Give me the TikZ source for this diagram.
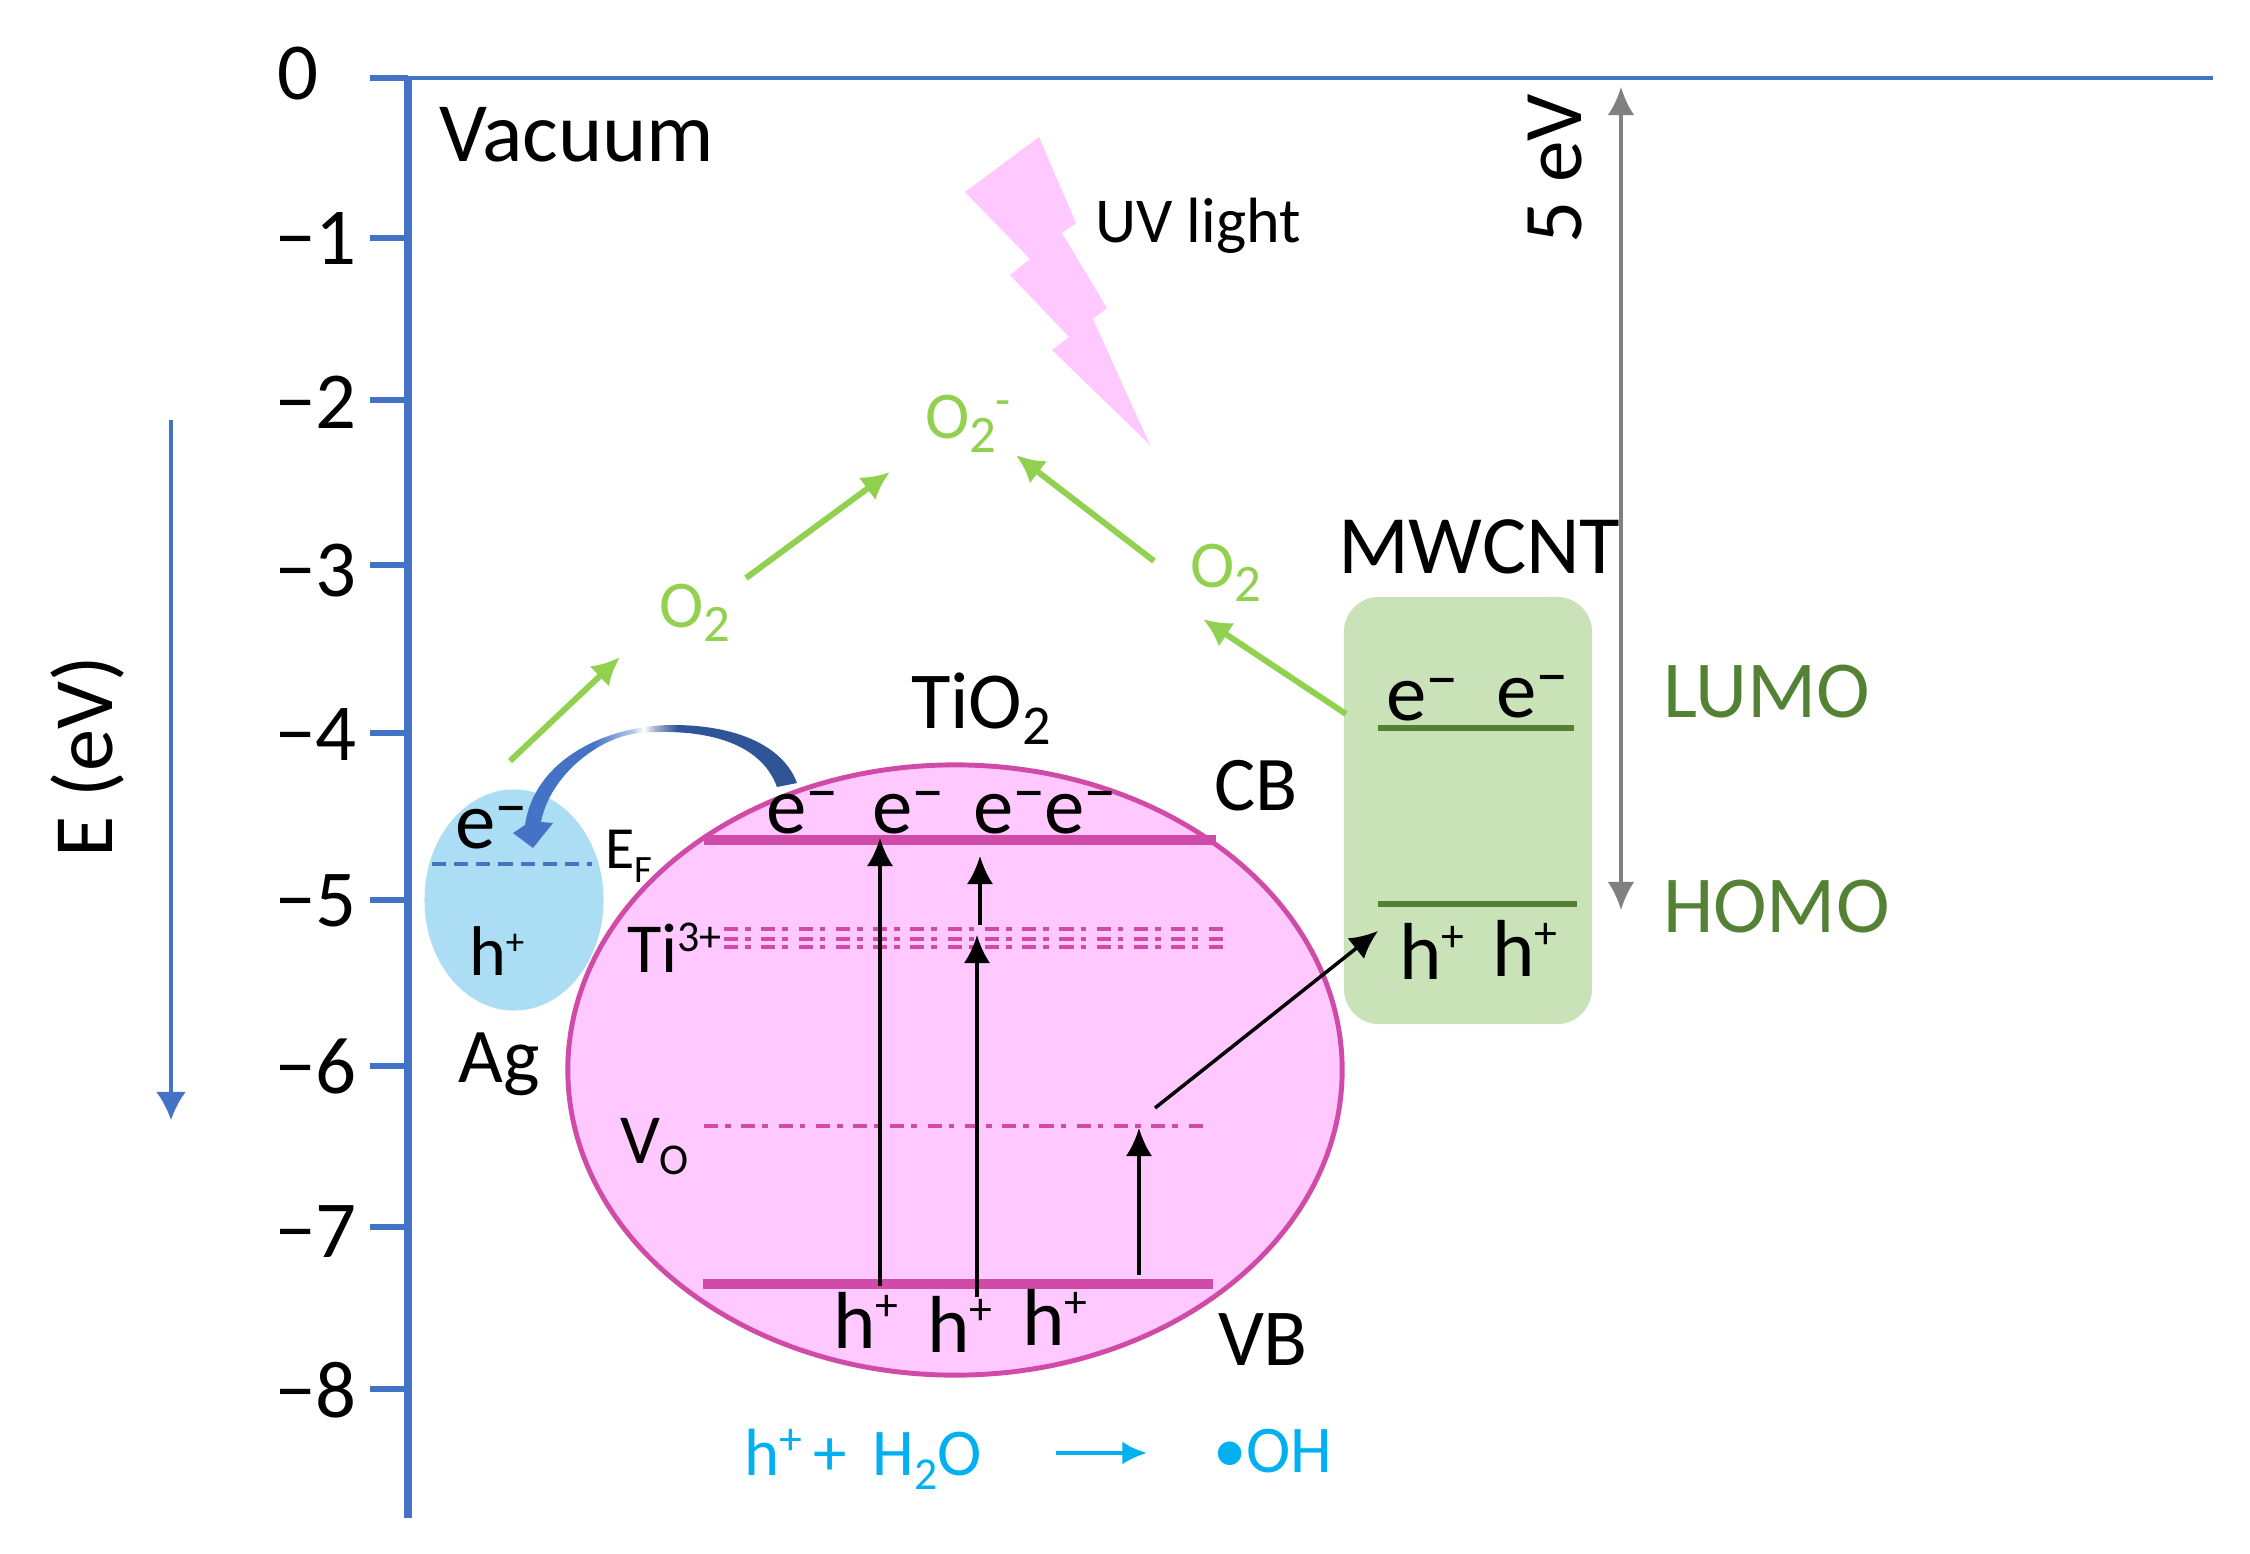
\documentclass[tikz,border=0pt]{standalone}
\usepackage{fontspec}
\setmainfont{Carlito}
\usetikzlibrary{calc, arrows.meta, shapes.geometric, positioning}
\definecolor{axisblue}{HTML}{4472C4}
\definecolor{arcdark}{HTML}{2F5597}
\definecolor{tiopink}{HTML}{FFC9FF}
\definecolor{tioedge}{HTML}{D04BA8}
\definecolor{agblue}{HTML}{ABDDF4}
\definecolor{cntgreen}{HTML}{C9E2B8}
\definecolor{cntdark}{HTML}{548235}
\definecolor{oxgreen}{HTML}{92D050}
\definecolor{waterblue}{HTML}{00B0F0}
\pgfdeclarehorizontalshading{arcfade}{100bp}{color(0bp)=(axisblue); color(39bp)=(axisblue); color(46bp)=(axisblue!40); color(48bp)=(white); color(50bp)=(arcdark!45); color(54bp)=(arcdark); color(100bp)=(arcdark)}
\newcommand{\fs}[1]{\fontsize{#1}{#1}\selectfont}
\newcommand{\shifted}[3]{\raisebox{#1}{\fs{#2}#3}}
\newcommand{\elec}{e\shifted{5.5pt}{18}{−}}
\newcommand{\hole}{h\shifted{7.8pt}{13}{+}}
\tikzset{
  txt/.style={inner sep=0pt, outer sep=0pt, font=\fs{23}},
  lbl/.style={txt, anchor=base west},
  ticklbl/.style={txt, anchor=west},
  oxy/.style={lbl, text=oxgreen, font=\fs{19}},
  blackarr/.style={draw=black, line width=1pt, -{Latex[length=8pt,width=7.5pt]}},
  oxarr/.style={draw=oxgreen, line width=1.7pt, -{Latex[length=8pt,width=8pt]}},
  level/.style={draw=tioedge, line width=2.8pt},
  deflevel/.style={draw=tioedge, line width=0.95pt, dash pattern=on 4pt off 2pt on 1.6pt off 3pt},
  cntlevel/.style={draw=cntdark, line width=1.9pt},
}
\begin{document}
\begin{tikzpicture}[x=0.01cm, y=-0.01cm]
  \useasboundingbox (0,0) rectangle (2250,1553);
  % axis
  \coordinate (axtop) at (408,78);
  \coordinate (axbot) at (408,1518);
  \coordinate (axend) at (2213,78);
  \draw[axisblue, line width=0.95pt] (axtop) -- (axend);
  \draw[axisblue, line width=2pt] (axtop) -- (axbot);
  \draw[axisblue, line width=1.5pt] (370,78) -- (axtop);
  \foreach \val/\ypos/\ytxt in {1/238/238, 2/400/402, 3/565/571, 4/733/735, 5/900/901, 6/1066/1066, 7/1227/1232, 8/1389/1390} {
    \draw[axisblue, line width=1.5pt] (370,\ypos) -- (408,\ypos);
    \node[ticklbl] (tick\val) at (275,\ytxt) {−\val};
  }
  \node[ticklbl] (tick0) at (277,74) {0};
  \node[lbl, font=\fs{24}] (vacuum) at (439,161) {Vacuum};
  \node[txt, rotate=90, font=\fs{24}] (elabel) at (87,757) {E (eV)};
  \coordinate (estart) at (171,420);
  \coordinate (eend) at (171,1120);
  \draw[axisblue, line width=0.9pt, -{Latex[length=8pt,width=8.5pt]}] (estart) -- (eend);
  % UV
  \fill[tiopink] (1039,137) -- (1076,223) -- (1062,233) -- (1107,308) -- (1093,319) -- (1150,445)
    -- (1052,350) -- (1069,337) -- (1010,275) -- (1030,259) -- (965,192) -- cycle;
  \node[lbl, font=\fs{18.2}] (uv) at (1095,242) {UV light};
  % MWCNT
  \node[fill=cntgreen, rounded corners=10pt, minimum width=248*0.2845pt, minimum height=427*0.2845pt, inner sep=0pt] (cnt) at (1468,810.5) {};
  \node[lbl, font=\fs{23.6}] (mwcnt) at (1338,573) {MWCNT};
  \coordinate (luA) at (1378,728);
  \coordinate (luB) at (1574,728);
  \coordinate (hoA) at (1378,904);
  \coordinate (hoB) at (1577,904);
  \draw[cntlevel] (luA) -- (luB);
  \draw[cntlevel] (hoA) -- (hoB);
  \node[lbl] (cnte1) at (1386,720) {\elec};
  \node[lbl] (cnte2) at (1496,717) {\elec};
  \node[lbl] (cnth1) at (1399,979) {\hole};
  \node[lbl] (cnth2) at (1492,976) {\hole};
  \node[lbl, text=cntdark] (lumo) at (1663,717) {LUMO};
  \node[lbl, text=cntdark] (homo) at (1663,932) {HOMO};
  % 5 eV
  \coordinate (fiveA) at (1621,87);
  \coordinate (fiveB) at (1621,910);
  \draw[black!50, line width=1pt, {Latex[length=8pt,width=7.6pt]}-{Latex[length=8pt,width=7.6pt]}] (fiveA) -- (fiveB);
  \node[txt, rotate=90, font=\fs{23.7}] (five) at (1555,169) {5 eV};
  % TiO2
  \node[ellipse, draw=tioedge, fill=tiopink, line width=1.4pt, minimum width=774*0.2845pt, minimum height=610*0.2845pt, inner sep=0pt] (tio) at (955,1070) {};
  \node[lbl] (tiolbl) at (911,728) {TiO\shifted{-4.8pt}{16}{2}};
  \node[lbl, font=\fs{22}] (cb) at (1214,810) {CB};
  \node[lbl] (vb) at (1218,1365) {VB};
  \coordinate (cbA) at (704,840);
  \coordinate (cbB) at (1216,840);
  \coordinate (vbA) at (703,1284);
  \coordinate (vbB) at (1213,1284);
  \draw[level] (cbA) -- (cbB);
  \draw[level] (vbA) -- (vbB);
  \coordinate (voA) at (704,1126);
  \coordinate (voB) at (1204,1126);
  \draw[deflevel] (voA) -- (voB);
  \foreach \ypos in {929,939,947} {
    \coordinate (tiA\ypos) at (724,\ypos);
    \coordinate (tiB\ypos) at (1224,\ypos);
    \draw[deflevel] (tiA\ypos) -- (tiB\ypos);
  }
  \node[lbl, font=\fs{20}] (ti) at (627,972) {Ti\shifted{5.7pt}{12.5}{3+}};
  \node[lbl, font=\fs{20}] (vo) at (620,1163) {V\shifted{-3.4pt}{12.5}{O}};
  \foreach \nam/\xpos in {e1/766, e2/872, e3/973, e4/1044} {
    \node[lbl] (\nam) at (\xpos,833) {\elec};
  }
  \node[lbl] (h1) at (833,1348) {\hole};
  \node[lbl] (h2) at (927,1352) {\hole};
  \node[lbl] (h3) at (1022,1345) {\hole};
  % excitation
  \coordinate (upAa) at (880,1286);
  \coordinate (upAb) at (880,838);
  \coordinate (upBa) at (977,1297);
  \coordinate (upBb) at (977,935);
  \coordinate (upCa) at (980,925);
  \coordinate (upCb) at (980,856);
  \coordinate (upDa) at (1139,1275);
  \coordinate (upDb) at (1139,1128);
  \coordinate (upEa) at (1155,1108);
  \coordinate (upEb) at (1378,931);
  \draw[blackarr] (upAa) -- (upAb);
  \draw[blackarr] (upBa) -- (upBb);
  \draw[blackarr] (upCa) -- (upCb);
  \draw[blackarr] (upDa) -- (upDb);
  \draw[blackarr] (upEa) -- (upEb);
  % Ag
  \node[ellipse, fill=agblue, minimum width=179*0.2845pt, minimum height=221*0.2845pt, inner sep=0pt] (ag) at (514,900) {};
  \coordinate (efA) at (432,864);
  \coordinate (efB) at (592,864);
  \draw[axisblue, line width=1pt, dash pattern=on 4pt off 2.3pt] (efA) -- (efB);
  \node[lbl] (age) at (455,848) {\elec};
  \node[lbl, font=\fs{20}] (agh) at (469,975) {h\shifted{5.7pt}{10.5}{+}};
  \node[txt, font=\fs{22}] (aglbl) at (499,1064) {Ag};
  \node[lbl, font=\fs{17}] (ef) at (605,868) {E\shifted{-4pt}{11}{F}};
  % electron transfer
  \shade[shading=arcfade] (797,783) .. controls (783,745) and (735,725) .. (673,725)
    .. controls (610,725) and (535,757) .. (525,825) -- (513,833) -- (533,848) -- (553,823) -- (541,822)
    .. controls (550,775) and (600,736) .. (640,733) .. controls (700,728) and (760,740) .. (777,787) -- cycle;
  % O2
  \node[oxy] (oxl) at (659,627) {O\shifted{-4pt}{15}{2}};
  \node[oxy] (oxr) at (1190,587) {O\shifted{-4pt}{15}{2}};
  \node[oxy] (oxm) at (925,438) {O\shifted{-4pt}{15}{2}\shifted{6pt}{14}{-}};
  \coordinate (oxAa) at (510,761);
  \coordinate (oxAb) at (620,657);
  \coordinate (oxBa) at (746,578);
  \coordinate (oxBb) at (890,472);
  \coordinate (oxCa) at (1154,561);
  \coordinate (oxCb) at (1016,455);
  \coordinate (oxDa) at (1346,714);
  \coordinate (oxDb) at (1203,619);
  \draw[oxarr] (oxAa) -- (oxAb);
  \draw[oxarr] (oxBa) -- (oxBb);
  \draw[oxarr] (oxCa) -- (oxCb);
  \draw[oxarr] (oxDa) -- (oxDb);
  % water
  \node[lbl, text=waterblue, font=\fs{19}] (water) at (744,1475) {h\shifted{5.8pt}{13}{+}\,+\,\kern4.3pt H\shifted{-4pt}{13}{2}O};
  \node[lbl, text=waterblue, font=\fs{19}] (oh) at (1213,1472) {\textbullet OH};
  \coordinate (wtA) at (1056,1453);
  \coordinate (wtB) at (1147,1453);
  \draw[waterblue, line width=1pt, -{Latex[length=7pt,width=6.5pt]}] (wtA) -- (wtB);
\end{tikzpicture}
\end{document}
